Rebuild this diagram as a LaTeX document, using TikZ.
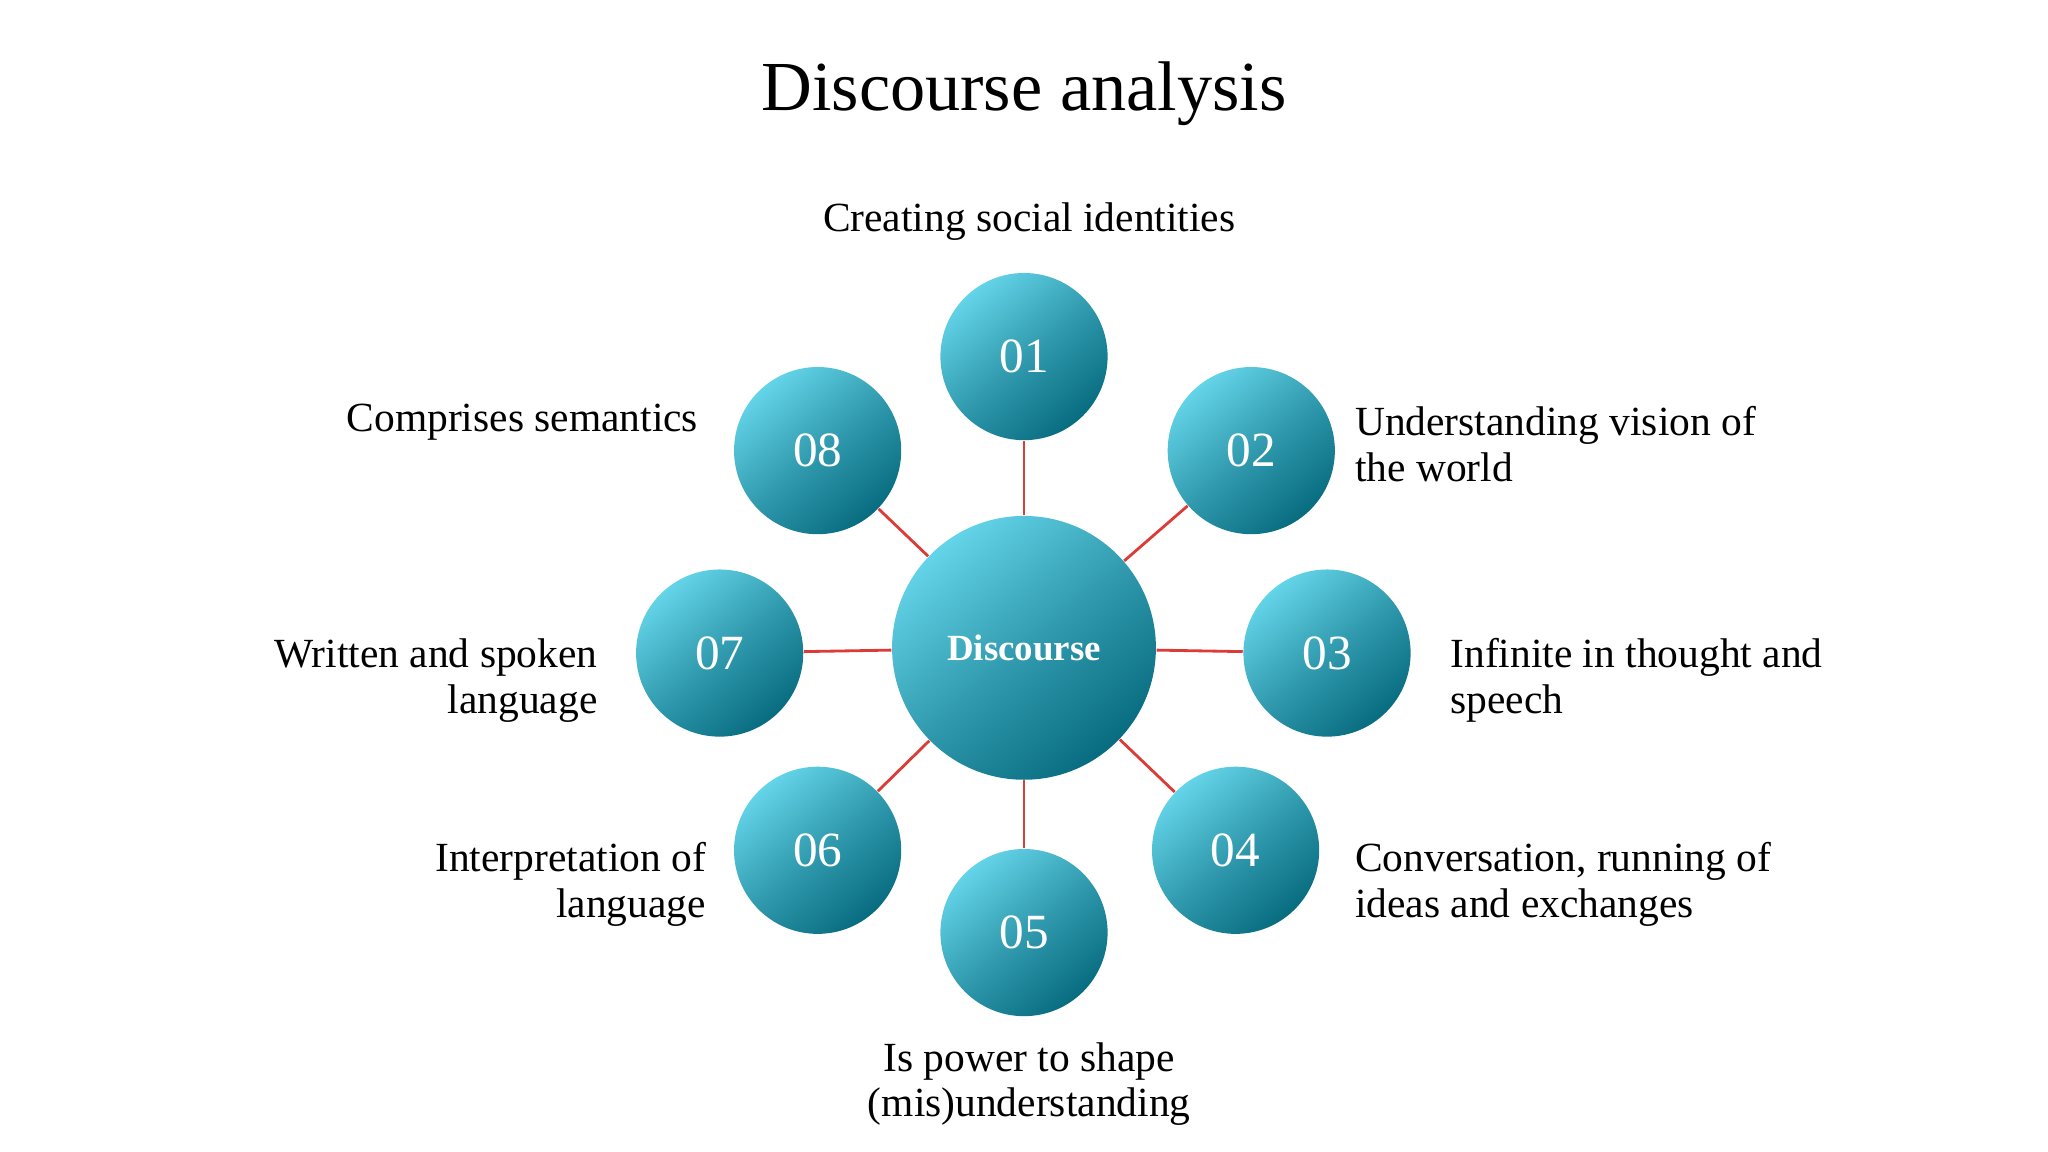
\documentclass[tikz,border=0pt]{standalone}
\usepackage{fontspec}
\setmainfont{Liberation Serif}
\definecolor{ballhi}{RGB}{100,212,232}
\definecolor{balllo}{RGB}{8,108,128}
\definecolor{linkred}{RGB}{220,60,55}
\begin{document}
\begin{tikzpicture}[x=0.013061cm,y=-0.013061cm,
  ball/.style={circle,minimum size=#1,inner sep=0pt,top color=ballhi,bottom color=balllo,middle color=ballhi!45!balllo,shading angle=40,text=white,font=\fontsize{14}{16}\selectfont},
  lab/.style={font=\fontsize{11.8}{13}\selectfont,inner sep=0pt},
  link/.style={draw=linkred,line width=0.8pt}]
\useasboundingbox (0,0) rectangle (1568,882);
\node[font=\fontsize{20}{22}\selectfont] (title) at (784,72) {Discourse analysis};
\node[ball=202*0.013061cm,font=\bfseries\fontsize{10.5}{12}\selectfont] (c) at (784,496) {Discourse};
\foreach \n/\x/\y in {01/784/273,02/958/345,03/1016/500,04/946/651,05/784/714,06/626/651,07/551/500,08/626/345}{
  \node[ball=128*0.013061cm] (b\n) at (\x,\y) {\n};
  \path[link] (c) -- (b\n);
}
\node[lab] (t1) at (788,170) {Creating social identities};
\node[lab,anchor=east] (t8) at (535,323) {Comprises semantics};
\node[lab,anchor=west,align=left] (t2) at (1037,340) {Understanding vision of\\the world};
\node[lab,anchor=west,align=left] (t3) at (1110,521) {Infinite in thought and\\speech};
\node[lab,anchor=west,align=left] (t4) at (1037,677) {Conversation, running of\\ideas and exchanges};
\node[lab,align=center] (t5) at (788,830) {Is power to shape\\(mis)understanding};
\node[lab,anchor=east,align=right] (t6) at (541,677) {Interpretation of\\language};
\node[lab,anchor=east,align=right] (t7) at (458,521) {Written and spoken\\language};
\end{tikzpicture}
\end{document}
